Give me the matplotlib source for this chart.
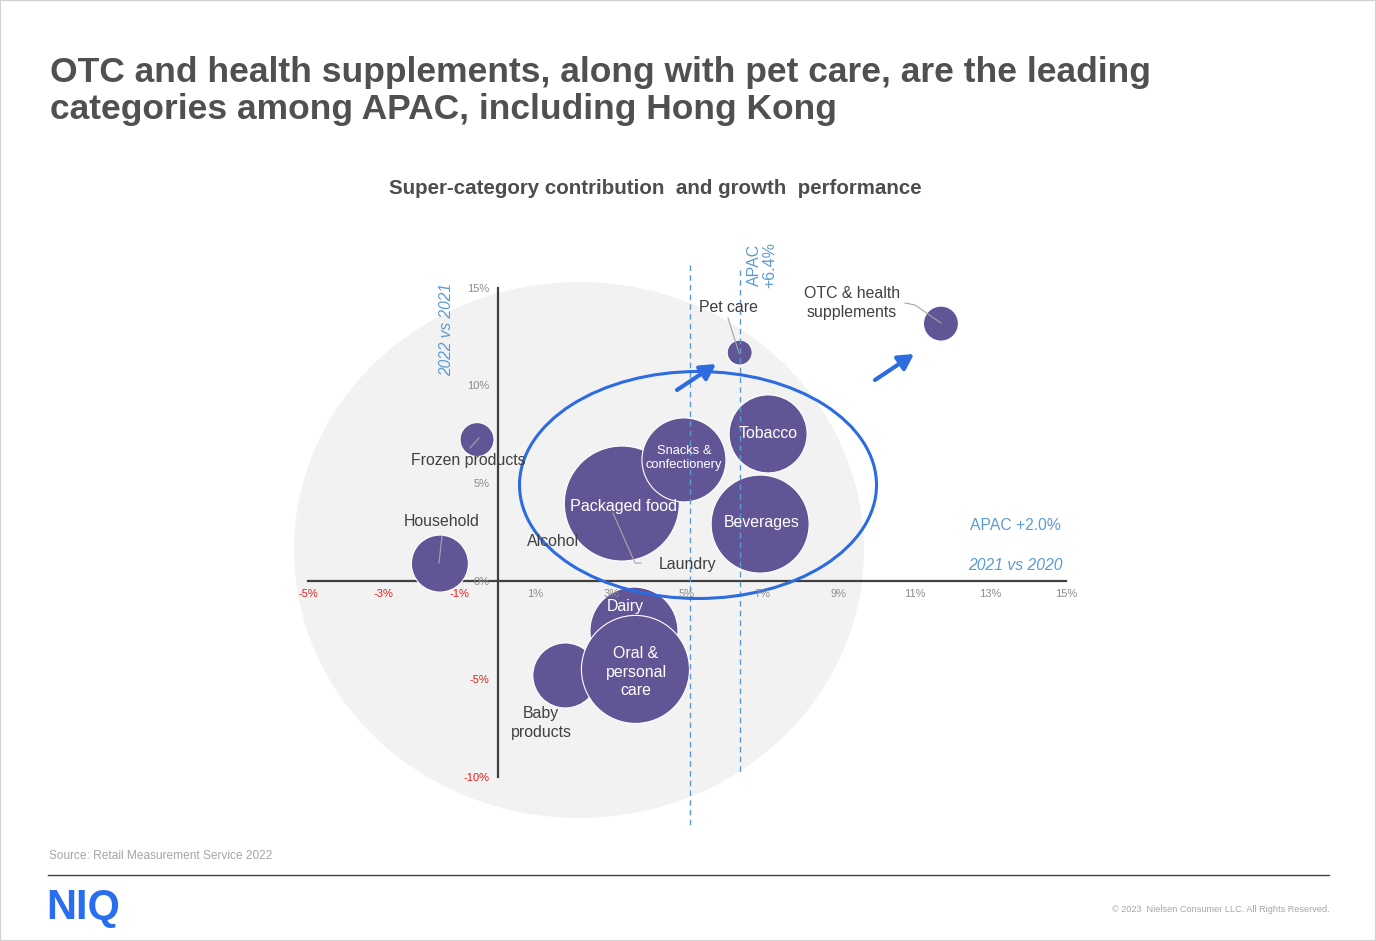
import matplotlib
matplotlib.use('Agg')
import matplotlib.pyplot as plt
from matplotlib.patches import Ellipse, Rectangle

plt.rcParams['font.family'] = ['Liberation Sans', 'DejaVu Sans']

# ---------------- data ----------------
categories = ['Alcohol', 'Laundry', 'Household', 'Frozen products', 'Pet care',
              'OTC & health supplements', 'Packaged food', 'Snacks & confectionery',
              'Tobacco', 'Beverages', 'Baby products', 'Dairy', 'Oral & personal care']
growth_x = [2.9, 3.05, -1.52, -0.54, 6.39, 11.70, 3.28, 4.92, 7.14, 6.93, 1.79, 3.60, 3.64]
growth_y = [2.6, 3.48, 0.89, 7.23, 11.68, 13.16, 3.96, 6.19, 7.52, 2.91, -4.83, -2.56, -4.52]
contribution = [470, 470, 1684, 599, 324, 635, 6856, 3658, 3154, 4979, 2190, 4014, 6047]

x_ticks = [-5, -3, -1, 1, 3, 5, 7, 9, 11, 13, 15]
y_ticks = [-10, -5, 0, 5, 10, 15]
x_tick_labels = ['-5%', '-3%', '-1%', '1%', '3%', '5%', '7%', '9%', '11%', '13%', '15%']
y_tick_labels = ['-10%', '-5%', '0%', '5%', '10%', '15%']
ref_lines_x = [5.08, 6.4]

# ---------------- figure ----------------
W, H = 1376, 941
fig = plt.figure(figsize=(W / 100, H / 100), dpi=100)
ax = fig.add_axes([0, 0, 1, 1])

# pixel mapping
X0PX, XPX = 497.5, 37.9
Y0PX, YPX = 581.0, 19.56
ax.set_xlim(-X0PX / XPX, (W - X0PX) / XPX)
ax.set_ylim((Y0PX - H) / YPX, Y0PX / YPX)

def P(px, py):
    return ((px - X0PX) / XPX, (Y0PX - py) / YPX)

PURPLE = '#625596'
BLUE = '#2c6be0'
LBLUE = '#5b9bd5'
DARK = '#404040'
GRAYT = '#8c8c8c'
RED = '#e3201b'

ax.set_facecolor('white')
for s in ['top', 'right']:
    ax.spines[s].set_visible(False)
ax.spines['left'].set_position(('data', 0))
ax.spines['bottom'].set_position(('data', 0))
ax.spines['left'].set_bounds(-10, 15)
ax.spines['bottom'].set_bounds(-5, 15)
for s in ['left', 'bottom']:
    ax.spines[s].set_color(DARK)
    ax.spines[s].set_linewidth(1.6)
    ax.spines[s].set_zorder(1.5)

ax.set_xticks(x_ticks)
ax.set_xticklabels(x_tick_labels)
ax.set_yticks(y_ticks)
ax.set_yticklabels(y_tick_labels)
ax.tick_params(axis='x', length=0, pad=6, labelsize=8, labelcolor=GRAYT)
ax.tick_params(axis='y', length=0, pad=6, labelsize=8, labelcolor=GRAYT)
for lbl, v in zip(ax.get_xticklabels(), x_ticks):
    if v < 0:
        lbl.set_color(RED)
for lbl, v in zip(ax.get_yticklabels(), y_ticks):
    if v < 0:
        lbl.set_color(RED)
ax.xaxis.set_zorder(20)
ax.yaxis.set_zorder(20)

# background gray ellipse
cx, cy = P(579, 550)
ax.add_patch(Ellipse((cx, cy), 570 / XPX, 536 / YPX, facecolor='#f2f2f2',
                     edgecolor='none', zorder=0.5))

# bubbles
ax.scatter(growth_x, growth_y, s=contribution, color=PURPLE, edgecolor='white',
           linewidth=0.8, zorder=3)

# reference dashed lines
ax.plot([ref_lines_x[0]] * 2, [P(0, 265)[1], P(0, 828)[1]], color=LBLUE, lw=1,
        ls=(0, (4, 3)), zorder=4)
ax.plot([ref_lines_x[1]] * 2, [P(0, 270)[1], P(0, 772)[1]], color=LBLUE, lw=1,
        ls=(0, (4, 3)), zorder=4)

# blue ellipse highlight
ex, ey = P(698, 485)
ax.add_patch(Ellipse((ex, ey), 357 / XPX, 227 / YPX, facecolor='none',
                     edgecolor=BLUE, lw=2.2, zorder=5))

# arrows
for (t0, t1) in [((677, 390), (716, 364)), ((875, 380), (914, 354))]:
    ax.annotate('', xy=P(*t1), xytext=P(*t0),
                arrowprops=dict(arrowstyle='-|>,head_length=0.9,head_width=0.5',
                                color=BLUE, lw=3, shrinkA=0, shrinkB=0),
                zorder=6)

# leader lines
LEAD = '#a6a6a6'
def lead(pts):
    xs, ys = zip(*[P(*p) for p in pts])
    ax.plot(xs, ys, color=LEAD, lw=0.8, zorder=4.5)

lead([(728, 318), (739, 353)])
lead([(905, 303), (915, 305), (941, 323)])
lead([(470, 448), (479, 438)])
lead([(442, 536), (439, 563)])
lead([(613, 513), (635, 563), (641, 563)])

# bubble labels
labels = [
    ('Pet care', 728, 307, DARK, 11.4, 1.3),
    ('OTC & health\nsupplements', 852, 303, DARK, 11.4, 1.3),
    ('Frozen products', 468, 461, DARK, 11.4, 1.3),
    ('Household', 442, 522, DARK, 11.4, 1.3),
    ('Alcohol', 553, 541, DARK, 11.4, 1.3),
    ('Laundry', 688, 564, DARK, 11.4, 1.3),
    ('Baby\nproducts', 541, 723, DARK, 11.4, 1.3),
    ('Packaged food', 623, 507, 'white', 11.6, 1.3),
    ('Snacks &\nconfectionery', 684, 458, 'white', 9.3, 1.22),
    ('Tobacco', 768, 434, 'white', 11.4, 1.3),
    ('Beverages', 762, 522, 'white', 11.4, 1.3),
    ('Dairy', 625, 606, 'white', 11.4, 1.3),
    ('Oral &\npersonal\ncare', 636, 672, 'white', 11.4, 1.3),
]
for t, px, py, c, fs, lsp in labels:
    ax.text(*P(px, py), t, color=c, fontsize=fs, ha='center', va='center',
            linespacing=lsp, zorder=8)

# axis annotations
ax.text(*P(447, 329), '2022 vs 2021', color=LBLUE, fontsize=11.2, rotation=90,
        ha='center', va='center', style='italic', zorder=8)
ax.text(*P(762, 265), 'APAC\n+6.4%', color=LBLUE, fontsize=11.5, rotation=90,
        ha='center', va='center', multialignment='center', linespacing=1.0, zorder=8)
ax.text(*P(1015, 526), 'APAC +2.0%', color=LBLUE, fontsize=11.3, ha='center',
        va='center', zorder=8)
ax.text(*P(1015, 565), '2021 vs 2020', color=LBLUE, fontsize=11.3, ha='center',
        va='center', style='italic', zorder=8)

# titles and footer (figure coords)
def F(px, py):
    return (px / W, 1 - py / H)

fig.text(*F(50, 91), 'OTC and health supplements, along with pet care, are the leading\n'
         'categories among APAC, including Hong Kong', color='#505050',
         fontsize=25.5, fontweight='bold', ha='left', va='center', linespacing=1.19)
fig.text(*F(655, 189), 'Super-category contribution  and growth  performance',
         color='#4d4d4d', fontsize=14.8, fontweight='bold', ha='center', va='center')
fig.text(*F(49, 856), 'Source: Retail Measurement Service 2022', color='#a6a6a6',
         fontsize=8.6, ha='left', va='center')
fig.add_artist(plt.Line2D([48 / W, 1329 / W], [1 - 875 / H] * 2, color='#404040', lw=1))
fig.text(*F(46, 908), 'NIQ', color='#2a6ef0', fontsize=30, fontweight='bold',
         ha='left', va='center')
fig.text(*F(1330, 909), '\u00a9 2023  Nielsen Consumer LLC. All Rights Reserved.',
         color='#a6a6a6', fontsize=6.6, ha='right', va='center')
fig.add_artist(Rectangle((0, 0), 1, 1, transform=fig.transFigure, facecolor='none',
                         edgecolor='#d0d0d0', lw=1.5))

fig.savefig('out.png', dpi=100)
